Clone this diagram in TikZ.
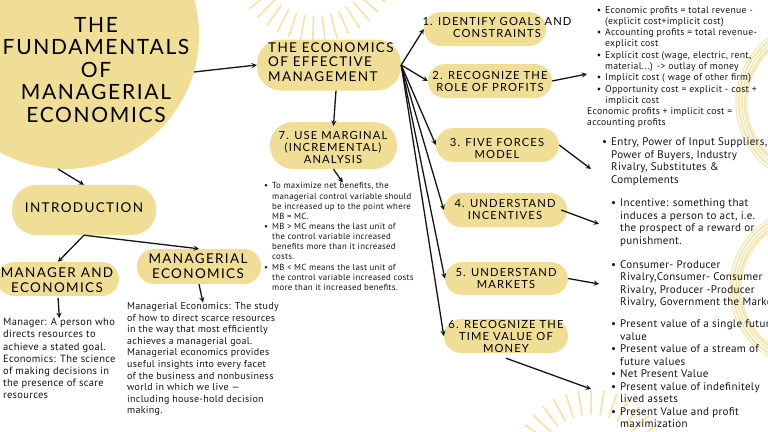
\documentclass[tikz,border=0pt]{standalone}
\usepackage{fontspec}
\setmainfont[LetterSpace=3]{PT Sans}
\newfontfamily\capsfont[LetterSpace=10]{Lato}
\newfontfamily\titlefont[LetterSpace=8]{Lato}
\definecolor{sunyellow}{HTML}{F0DE96}
\definecolor{rayyellow}{HTML}{F5E3A2}
\definecolor{ringyellow}{HTML}{F4E6B0}
\definecolor{inkblack}{HTML}{141414}
\newcommand{\bul}{\llap{\textbullet\hspace{4pt}}}
\tikzset{
  pill/.style={rectangle, fill=sunyellow, inner sep=0pt, rounded corners=17pt},
  capsbig/.style={text=black, align=center, inner sep=0pt, font=\titlefont\fontsize{21}{22.5}\selectfont},
  capsmid/.style={text=black, align=center, inner sep=0pt, font=\capsfont\fontsize{13.5}{14.5}\selectfont},
  capssmall/.style={text=black, align=center, inner sep=0pt, font=\capsfont\fontsize{11.2}{12}\selectfont},
  bodysmall/.style={text=inkblack, align=left, anchor=north west, inner sep=0pt, font=\fontsize{8.8}{10.15}\selectfont},
  bodymid/.style={text=inkblack, align=left, anchor=north west, inner sep=0pt, font=\fontsize{9.7}{11.3}\selectfont},
  bodywide/.style={text=inkblack, align=left, anchor=north west, inner sep=0pt, font=\fontsize{10}{11.55}\selectfont},
  bodyplus/.style={text=inkblack, align=left, anchor=north west, inner sep=0pt, font=\fontsize{10.5}{12.2}\selectfont},
  bodybig/.style={text=inkblack, align=left, anchor=north west, inner sep=0pt, font=\fontsize{11}{12.5}\selectfont},
  arrow/.style={-stealth, line width=1.3pt, color=inkblack},
  ray/.style={line width=1.6pt, color=rayyellow}
}
\begin{document}
\begin{tikzpicture}[x=1pt, y=-1pt]
  \useasboundingbox (0,0) rectangle (768,431);
  \clip (0,0) rectangle (768,431);

  % Rays and rings
  \foreach \ang in {-61,-52.5,...,61}
    \draw[ray] ({315+58*sin(\ang)},{-42+58*cos(\ang)}) -- ({315+83*sin(\ang)},{-42+83*cos(\ang)});
  \foreach \ang in {-65,-55.7,...,66}
    \draw[ray] ({591+55*sin(\ang)},{470-55*cos(\ang)}) -- ({591+80*sin(\ang)},{470-80*cos(\ang)});
  \foreach \rad/\wid in {82/1.2,79/2,76/1.5,73/2.2,71/1}
    \draw[ringyellow, line width=\wid pt] (818,103) circle (\rad pt);
  \foreach \rad/\wid in {80/1.2,77/2,74/1.5,71/2.2,69/1}
    \draw[ringyellow, line width=\wid pt] (810,288) circle (\rad pt);

  % Yellow shapes
  \node[circle, fill=sunyellow, inner sep=0pt, minimum size=268pt] (titlesun) at (65,35) {};
  \node[pill, rounded corners=24pt, minimum width=144pt, minimum height=51pt] (economics) at (329,65) {};
  \node[pill, rounded corners=23pt, minimum width=127pt, minimum height=47pt] (marginal) at (333.5,145.5) {};
  \node[pill, rounded corners=24pt, minimum width=144pt, minimum height=50pt] (intro) at (84,210) {};
  \node[pill, minimum width=122pt, minimum height=34pt] (manager) at (58,279) {};
  \node[pill, minimum width=124pt, minimum height=35pt] (managerial) at (199,266.5) {};
  \node[pill, minimum width=122pt, minimum height=34pt] (goals) at (485,29) {};
  \node[pill, minimum width=124pt, minimum height=34pt] (profits) at (490,81) {};
  \node[pill, minimum width=123pt, minimum height=34pt] (forces) at (497.5,145) {};
  \node[pill, minimum width=123pt, minimum height=34pt] (incentives) at (505.5,210) {};
  \node[pill, minimum width=123pt, minimum height=33pt] (markets) at (506.5,278.5) {};
  \node[pill, minimum width=124pt, minimum height=34pt] (timevalue) at (506,336) {};

  % Pill labels
  \node[capsbig] (titletext) at (96,70) {THE\\FUNDAMENTALS\\OF\\MANAGERIAL\\ECONOMICS};
  \node[capsmid, align=left, anchor=west] (economicstext) at (268,62) {THE ECONOMICS\\OF EFFECTIVE\\MANAGEMENT};
  \node[capssmall] (marginaltext) at (333,147) {7. USE MARGINAL\\(INCREMENTAL)\\ANALYSIS};
  \node[capsmid] (introtext) at (84,208) {INTRODUCTION};
  \node[capsmid] (managertext) at (57,280) {MANAGER AND\\ECONOMICS};
  \node[capsmid] (managerialtext) at (198,266) {MANAGERIAL\\ECONOMICS};
  \node[capssmall] (goalstext) at (497,27) {1. IDENTIFY GOALS AND\\CONSTRAINTS};
  \node[capssmall] (profitstext) at (490,81) {2. RECOGNIZE THE\\ROLE OF PROFITS};
  \node[capssmall] (forcestext) at (497,148) {3. FIVE FORCES\\MODEL};
  \node[capssmall] (incentivestext) at (505,209) {4. UNDERSTAND\\INCENTIVES};
  \node[capssmall] (marketstext) at (506,278) {5. UNDERSTAND\\MARKETS};
  \node[capssmall] (timetext) at (506,336) {6. RECOGNIZE THE\\TIME VALUE OF\\MONEY};

  % Body text
  \node[bodyplus] (managerbody) at (3,318) {Manager: A person who\\directs resources to\\achieve a stated goal.\\Economics: The science\\of making decisions in\\the presence of scare\\resources};
  \node[bodywide] (managerialbody) at (127,302.5) {Managerial Economics: The study\\of how to direct scarce resources\\in the way that most efficiently\\achieves a managerial goal.\\Managerial economics provides\\useful insights into every facet\\of the business and nonbusiness\\world in which we live ---\\including house-hold decision\\making.};
  \node[bodysmall] (marginalbody) at (272,182.5) {\bul To maximize net benefits, the\\managerial control variable should\\be increased up to the point where\\MB = MC.\\\bul MB > MC means the last unit of\\the control variable increased\\benefits more than it increased\\costs.\\\bul MB < MC means the last unit of\\the control variable increased costs\\more than it increased benefits.};
  \node[bodymid] (profitsbody) at (605,6) {\bul Economic profits = total revenue -\\(explicit cost+implicit cost)\\\bul Accounting profits = total revenue-\\explicit cost\\\bul Explicit cost (wage, electric, rent,\\material...) -> outlay of money\\\bul Implicit cost ( wage of other firm)\\\bul Opportunity cost = explicit - cost +\\implicit cost};
  \node[bodymid] (profitsnote) at (587,107.5) {Economic profits + implicit cost =\\accounting profits};
  \node[bodybig] (forcesbody) at (611,137.5) {\bul Entry, Power of Input Suppliers,\\Power of Buyers, Industry\\Rivalry, Substitutes \&\\Complements};
  \node[bodybig] (incentivesbody) at (620,199) {\bul Incentive: something that\\induces a person to act, i.e.\\the prospect of a reward or\\punishment.};
  \node[bodybig] (marketsbody) at (620,260) {\bul Consumer- Producer\\Rivalry,Consumer- Consumer\\Rivalry, Producer -Producer\\Rivalry, Government the Market};
  \node[bodybig] (timebody) at (620,320) {\bul Present value of a single future\\value\\\bul Present value of a stream of\\future values\\\bul Net Present Value\\\bul Present value of indefinitely\\lived assets\\\bul Present Value and profit\\maximization};

  % Free arrow ends
  \coordinate (profitsend) at (587,74);
  \coordinate (forcesend) at (591,169);
  \coordinate (incentivesend) at (599,224);
  \coordinate (marketsend) at (599,284);
  \coordinate (timeend) at (591,389);

  % Arrows
  \draw[arrow] (titlesun.-16) -- (economics.west);
  \draw[arrow] (titlesun.-93.5) -- (intro.north);
  \draw[arrow] (intro.south) -- (manager.north);
  \draw[arrow] (intro.south) -- (managerial.north);
  \draw[arrow, shorten <=2pt] (manager.south) -- (managerbody.north);
  \draw[arrow] (managerial.south) -- (managerialbody.north);
  \draw[arrow] ([xshift=7pt]economics.south) -- ([yshift=-4pt]marginal.north);
  \draw[arrow] (marginal.south) -- (marginalbody.north);
  \draw[arrow] (economics.east) -- (goals.west);
  \draw[arrow] (economics.east) -- (profits.west);
  \draw[arrow] (economics.east) -- (forces.west);
  \draw[arrow] (economics.east) -- (incentives.west);
  \draw[arrow] (economics.east) -- (markets.west);
  \draw[arrow] (economics.east) -- (timevalue.west);
  \draw[arrow] (profits.east) -- (profitsend);
  \draw[arrow] (forces.east) -- (forcesend);
  \draw[arrow] ([xshift=-6pt]incentives.east) -- (incentivesend);
  \draw[arrow] (markets.east) -- (marketsend);
  \draw[arrow] ([yshift=-5pt]timevalue.south) -- (timeend);
\end{tikzpicture}
\end{document}
